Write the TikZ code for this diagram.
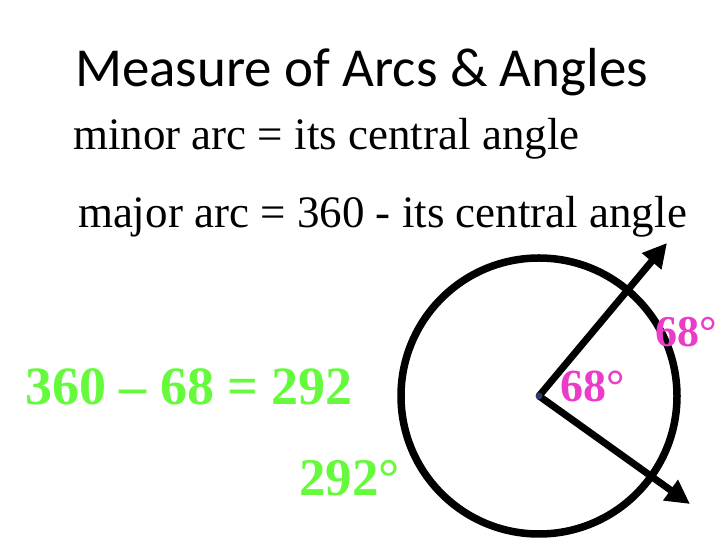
\documentclass[tikz,border=0pt]{standalone}
\usepackage{fontspec}
\setmainfont{Liberation Serif}
\newfontfamily\titlefont{Carlito}
\usetikzlibrary{arrows.meta}
\definecolor{calcgreen}{RGB}{102,250,60}
\definecolor{anglepink}{RGB}{235,60,200}
\definecolor{dotblue}{RGB}{40,60,100}
\begin{document}
\begin{tikzpicture}[x=1pt,y=1pt,
  txt/.style={anchor=base west,inner sep=0pt,outer sep=0pt},
  ray/.style={line width=7pt,-{Triangle[length=24pt,width=24pt]}},
  greentxt/.style={txt,text=calcgreen,font=\fontsize{54}{54}\selectfont\bfseries},
  pinktxt/.style={txt,text=anglepink,font=\fontsize{46}{46}\selectfont\bfseries}]
\useasboundingbox (0,0) rectangle (720,540);
\node[txt,font=\titlefont\fontsize{55}{55}\selectfont] (title) at (75,453) {Measure of Arcs \& Angles};
\node[txt,font=\fontsize{45}{45}\selectfont] (minor) at (73,390) {minor arc = its central angle};
\node[txt,font=\fontsize{45}{45}\selectfont] (major) at (78,312) {major arc = 360 - its central angle};
\coordinate (c) at (539,144);
\draw[line width=7.5pt] (c) circle[radius=138];
\coordinate (e1) at (667,297);
\coordinate (e2) at (690,36);
\draw[ray] (c) -- (e1);
\draw[ray] (c) -- (e2);
\fill[dotblue] (c) circle[radius=3.5];
\node[greentxt] (calc) at (25,135) {360 – 68 = 292};
\node[greentxt,font=\fontsize{53}{53}\selectfont\bfseries] (big) at (299,44) {292°};
\node[pinktxt] (a1) at (560,138) {68°};
\node[pinktxt,font=\fontsize{44}{44}\selectfont\bfseries] (a2) at (655,193) {68°};
\end{tikzpicture}
\end{document}
